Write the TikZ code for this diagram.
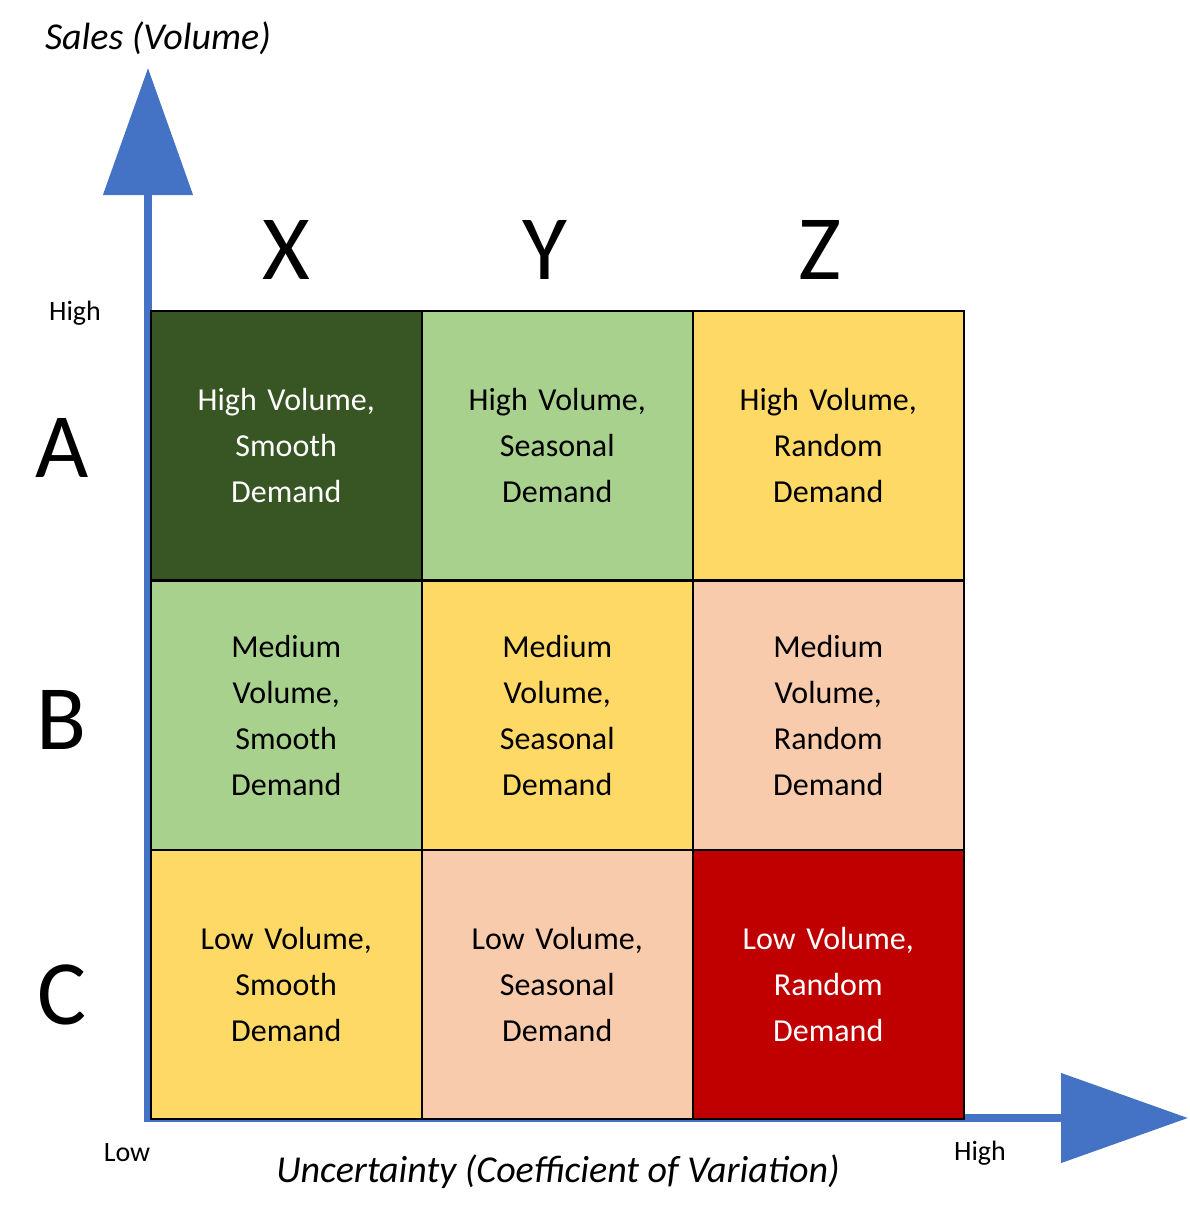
\documentclass[tikz,border=0pt]{standalone}
\usepackage{fontspec}
\setmainfont{Carlito}
\usetikzlibrary{arrows.meta}
\definecolor{dg}{HTML}{375623}
\definecolor{lg}{HTML}{A9D18E}
\definecolor{ye}{HTML}{FFD966}
\definecolor{pe}{HTML}{F8CBAD}
\definecolor{rd}{HTML}{C00000}
\definecolor{ax}{HTML}{4472C4}
\begin{document}
\begin{tikzpicture}[x=1pt,y=-1pt,
 cell/.style={draw=black,line width=1.5pt,minimum width=271pt,minimum height=269pt,anchor=north west,align=center,font=\fontsize{32}{46}\selectfont,text width=250pt,inner sep=0pt},
 axisline/.style={draw=ax,line width=8pt,-{Triangle[width=88pt,length=127pt]}},
 big/.style={font=\fontsize{92}{92}\selectfont},
 small/.style={font=\fontsize{28}{30}\selectfont},
 ttl/.style={font=\itshape\fontsize{38}{40}\selectfont}]
\useasboundingbox (0,0) rectangle (1190,1228);
\coordinate (o) at (148,1120);
\coordinate (ytip) at (148,68);
\coordinate (xtip) at (1188,1118);
\coordinate (o2) at (144,1118);
\draw[axisline] (o) -- (ytip);
\draw[axisline] (o2) -- (xtip);
\node[cell,fill=dg,text=white] (a1) at (150,310) {High Volume,\\Smooth\\Demand};
\node[cell,fill=lg] (a2) at (421,310) {High Volume,\\Seasonal\\Demand};
\node[cell,fill=ye] (a3) at (692,310) {High Volume,\\Random\\Demand};
\node[cell,fill=lg] (b1) at (150,580) {Medium\\Volume,\\Smooth\\Demand};
\node[cell,fill=ye] (b2) at (421,580) {Medium\\Volume,\\Seasonal\\Demand};
\node[cell,fill=pe] (b3) at (692,580) {Medium\\Volume,\\Random\\Demand};
\node[cell,fill=ye] (c1) at (150,849) {Low Volume,\\Smooth\\Demand};
\node[cell,fill=pe] (c2) at (421,849) {Low Volume,\\Seasonal\\Demand};
\node[cell,fill=rd,text=white] (c3) at (692,849) {Low Volume,\\Random\\Demand};
\node[big] (lx) at (286,250) {X};
\node[big] (ly) at (545,250) {Y};
\node[big] (lz) at (820,250) {Z};
\node[big] (la) at (62,448) {A};
\node[big] (lb) at (62,720) {B};
\node[big] (lc) at (62,995) {C};
\node[small] (hy) at (75,313) {High};
\node[small] (lo) at (127,1153) {Low};
\node[small] (hx) at (980,1153) {High};
\node[ttl] (ts) at (158,38) {Sales (Volume)};
\node[ttl] (tu) at (558,1172) {Uncertainty (Coefficient of Variation)};
\end{tikzpicture}
\end{document}
